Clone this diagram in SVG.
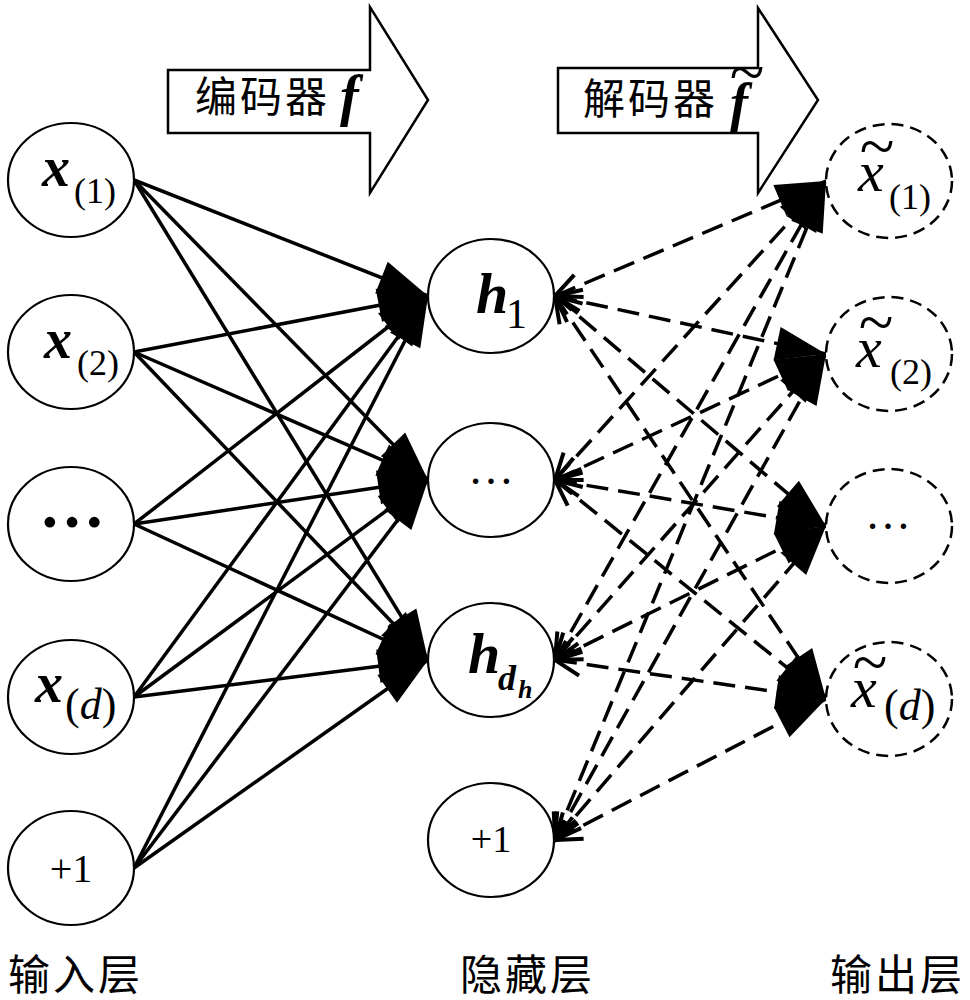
<svg xmlns="http://www.w3.org/2000/svg" width="970" height="1000" viewBox="0 0 970 1000">
<style>
.nd{fill:#fff;stroke:#000;stroke-width:2.2}
.nd2{fill:#fff;stroke:#000;stroke-width:2.5;stroke-dasharray:12 7}
.bar{fill:#fff;stroke:#000;stroke-width:2.5}
.cn{font-family:"Liberation Serif","Noto Sans CJK SC",serif;font-size:42px;letter-spacing:3px;fill:#000}
.m{font-family:"Liberation Serif","Times New Roman",serif;fill:#000}
.bi{font-style:italic;font-weight:bold}
.it{font-style:italic}
.enc{stroke:#000;stroke-width:3.5;fill:none;marker-end:url(#fa)}
.dec{stroke:#000;stroke-width:3.5;fill:none;stroke-dasharray:22 10;marker-end:url(#fa);marker-start:url(#oa)}
</style>
<defs>
<marker id="fa" markerUnits="userSpaceOnUse" markerWidth="54" markerHeight="40" refX="50" refY="19" orient="auto" overflow="visible">
<path d="M0,2 L50,19 L0,36 z" fill="#000"/>
</marker>
<marker id="oa" markerUnits="userSpaceOnUse" markerWidth="34" markerHeight="34" refX="28" refY="16" orient="auto-start-reverse" overflow="visible">
<path d="M2,4 L28,16 L2,28" fill="none" stroke="#000" stroke-width="4"/>
</marker>
</defs>
<rect width="970" height="1000" fill="#fff"/>

<g id="encoder-arrow">
<polygon class="bar" points="168,70 370,70 370,7 428,100 370,193 370,133 168,133"/>
<text class="cn" x="195" y="112">编码器</text>
<text class="m bi" x="340" y="115" font-size="56">f</text>
</g>
<g id="decoder-arrow">
<polygon class="bar" points="558,68 758,68 758,8 818,100 758,193 758,133 558,133"/>
<text class="cn" x="583" y="114">解码器</text>
<text class="m bi" x="730" y="121" font-size="54">f</text>
<text class="m" x="747" y="94" font-size="64" text-anchor="middle">~</text>
</g>

<g id="connectors">
<path class="enc" d="M134,180 L428,296"/>
<path class="enc" d="M134,180 L428,480"/>
<path class="enc" d="M134,180 L428,660"/>
<path class="enc" d="M134,352 L428,296"/>
<path class="enc" d="M134,352 L428,480"/>
<path class="enc" d="M134,352 L428,660"/>
<path class="enc" d="M134,524 L428,296"/>
<path class="enc" d="M134,524 L428,480"/>
<path class="enc" d="M134,524 L428,660"/>
<path class="enc" d="M134,697 L428,296"/>
<path class="enc" d="M134,697 L428,480"/>
<path class="enc" d="M134,697 L428,660"/>
<path class="enc" d="M134,868 L428,296"/>
<path class="enc" d="M134,868 L428,480"/>
<path class="enc" d="M134,868 L428,660"/>

<path class="dec" d="M555,296 L826,181"/>
<path class="dec" d="M555,296 L826,354"/>
<path class="dec" d="M555,296 L826,526"/>
<path class="dec" d="M555,296 L826,699"/>
<path class="dec" d="M555,480 L826,181"/>
<path class="dec" d="M555,480 L826,354"/>
<path class="dec" d="M555,480 L826,526"/>
<path class="dec" d="M555,480 L826,699"/>
<path class="dec" d="M555,660 L826,181"/>
<path class="dec" d="M555,660 L826,354"/>
<path class="dec" d="M555,660 L826,526"/>
<path class="dec" d="M555,660 L826,699"/>
<path class="dec" d="M555,840 L826,181"/>
<path class="dec" d="M555,840 L826,354"/>
<path class="dec" d="M555,840 L826,526"/>
<path class="dec" d="M555,840 L826,699"/>
</g>

<g id="in1"><ellipse class="nd" cx="71" cy="180" rx="63" ry="57"/>
<text class="m"><tspan class="bi" x="42" y="186" font-size="56">x</tspan><tspan x="74" y="203" font-size="36">(1)</tspan></text></g>
<g id="in2"><ellipse class="nd" cx="71" cy="352" rx="63" ry="57"/>
<text class="m"><tspan class="bi" x="44" y="358" font-size="56">x</tspan><tspan x="77" y="375" font-size="36">(2)</tspan></text></g>
<g id="in3"><ellipse class="nd" cx="71" cy="524" rx="63" ry="57"/>
<text class="m" x="72" y="527" font-size="66" font-weight="bold" text-anchor="middle">…</text></g>
<g id="ind"><ellipse class="nd" cx="71" cy="697" rx="63" ry="57"/>
<text class="m"><tspan class="bi" x="35" y="702" font-size="56">x</tspan><tspan x="65" y="719" font-size="44">(<tspan class="it">d</tspan>)</tspan></text></g>
<g id="inb"><ellipse class="nd" cx="71" cy="868" rx="63" ry="57"/>
<text class="m" x="71" y="882" font-size="40" text-anchor="middle">+1</text></g>

<g id="h1"><ellipse class="nd" cx="491" cy="296" rx="63" ry="57"/>
<text class="m"><tspan class="bi" x="476" y="313" font-size="58">h</tspan><tspan x="506" y="328" font-size="42">1</tspan></text></g>
<g id="h2"><ellipse class="nd" cx="491" cy="480" rx="63" ry="57"/>
<text class="m" x="491" y="484" font-size="46" text-anchor="middle">…</text></g>
<g id="hd"><ellipse class="nd" cx="491" cy="660" rx="63" ry="57"/>
<text class="m bi"><tspan x="468" y="673" font-size="58">h</tspan><tspan x="498" y="690" font-size="36">d</tspan><tspan x="518" y="698" font-size="26">h</tspan></text></g>
<g id="hb"><ellipse class="nd" cx="491" cy="840" rx="63" ry="57"/>
<text class="m" x="491" y="852" font-size="38" text-anchor="middle">+1</text></g>

<g id="out1"><ellipse class="nd2" cx="889" cy="181" rx="63" ry="57"/>
<text class="m" x="877" y="168" font-size="64" text-anchor="middle">~</text>
<text class="m"><tspan class="it" x="858" y="191" font-size="58">x</tspan><tspan x="889" y="209" font-size="36">(1)</tspan></text></g>
<g id="out2"><ellipse class="nd2" cx="889" cy="354" rx="63" ry="57"/>
<text class="m" x="876" y="344" font-size="64" text-anchor="middle">~</text>
<text class="m"><tspan class="it" x="856" y="367" font-size="58">x</tspan><tspan x="890" y="384" font-size="36">(2)</tspan></text></g>
<g id="out3"><ellipse class="nd2" cx="889" cy="526" rx="63" ry="57"/>
<text class="m" x="888" y="529" font-size="46" text-anchor="middle">…</text></g>
<g id="outd"><ellipse class="nd2" cx="889" cy="699" rx="63" ry="57"/>
<text class="m" x="870" y="684" font-size="64" text-anchor="middle">~</text>
<text class="m"><tspan class="it" x="851" y="707" font-size="58">x</tspan><tspan x="884" y="720" font-size="44">(<tspan class="it">d</tspan>)</tspan></text></g>

<g id="labels">
<text class="cn" x="8" y="990">输入层</text>
<text class="cn" x="460" y="990">隐藏层</text>
<text class="cn" x="830" y="990">输出层</text>
</g>
</svg>
